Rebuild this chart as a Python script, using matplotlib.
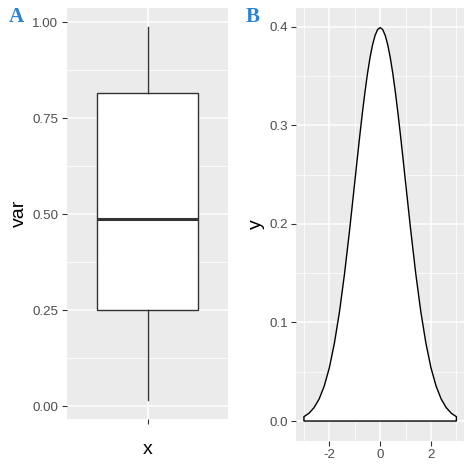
import matplotlib
matplotlib.use("Agg")
import matplotlib.pyplot as plt
from matplotlib.ticker import MultipleLocator

plt.rcParams['font.family'] = ['Liberation Sans', 'DejaVu Sans']
plt.rcParams['axes.unicode_minus'] = False

# panel A: boxplot summary
box_whislo = 0.016
box_q1 = 0.251
box_med = 0.487
box_q3 = 0.817
box_whishi = 0.989

# panel B: density curve
dens_x = [-3.0, -2.8, -2.6, -2.4, -2.2, -2.0, -1.8, -1.6, -1.4, -1.2,
          -1.0, -0.9, -0.8, -0.7, -0.6, -0.5, -0.4, -0.3, -0.2, -0.1,
          0.0, 0.1, 0.2, 0.3, 0.4, 0.5, 0.6, 0.7, 0.8, 0.9, 1.0,
          1.2, 1.4, 1.6, 1.8, 2.0, 2.2, 2.4, 2.6, 2.8, 3.0]
dens_y = [0.0044, 0.0079, 0.0136, 0.0224, 0.0355, 0.0540, 0.0790, 0.1109,
          0.1497, 0.1942,
          0.2420, 0.2661, 0.2897, 0.3123, 0.3332, 0.3521, 0.3683, 0.3814,
          0.3910, 0.3970,
          0.3989, 0.3970, 0.3910, 0.3814, 0.3683, 0.3521, 0.3332, 0.3123,
          0.2897, 0.2661, 0.2420,
          0.1942, 0.1497, 0.1109, 0.0790, 0.0540, 0.0355, 0.0224, 0.0136,
          0.0079, 0.0044]

yticks_a = [0.0, 0.25, 0.5, 0.75, 1.0]
yticks_b = [0.0, 0.1, 0.2, 0.3, 0.4]
xticks_b = [-2, 0, 2]

W = 474
fig = plt.figure(figsize=(4.74, 4.74), dpi=100)
axA = fig.add_axes([67 / W, 55 / W, 161 / W, 411 / W])
axB = fig.add_axes([296.3 / W, 33.3 / W, 167.7 / W, 432.7 / W])


def gg_style(ax):
    ax.set_facecolor('#EBEBEB')
    for s in ax.spines.values():
        s.set_visible(False)
    ax.grid(True, which='major', color='white', lw=1.1)
    ax.grid(True, which='minor', color='white', lw=0.55)
    ax.set_axisbelow(True)
    ax.tick_params(which='major', length=3.6, width=0.8, color='#333333',
                   labelsize=9.6, labelcolor='#4D4D4D', pad=2.6)
    ax.tick_params(which='minor', length=0)


# ---- panel A
gg_style(axA)
stats = [dict(whislo=box_whislo, q1=box_q1, med=box_med, q3=box_q3,
              whishi=box_whishi, fliers=[])]
axA.bxp(stats, positions=[1], widths=0.75, patch_artist=True, showcaps=False,
        boxprops=dict(facecolor='white', edgecolor='#333333', lw=1.0),
        whiskerprops=dict(color='#333333', lw=1.0),
        medianprops=dict(color='#333333', lw=2.2))
axA.set_xlim(0.4, 1.6)
span = box_whishi - box_whislo
axA.set_ylim(box_whislo - 0.05 * span, box_whishi + 0.05 * span)
axA.set_yticks(yticks_a)
axA.set_yticklabels(['0.00', '0.25', '0.50', '0.75', '1.00'])
axA.yaxis.set_minor_locator(MultipleLocator(0.125))
axA.set_xticks([1])
axA.set_xticklabels([''])
axA.set_xlabel('x', fontsize=14, labelpad=10)
axA.set_ylabel('var', fontsize=14, labelpad=3)

# ---- panel B
gg_style(axB)
axB.fill(dens_x + [dens_x[-1], dens_x[0]], dens_y + [0, 0],
         facecolor='white', edgecolor='black', lw=1.0, zorder=3)
xspan = dens_x[-1] - dens_x[0]
axB.set_xlim(dens_x[0] - 0.05 * xspan, dens_x[-1] + 0.05 * xspan)
yspan = max(dens_y)
axB.set_ylim(-0.05 * yspan, yspan * 1.05)
axB.set_xticks(xticks_b)
axB.set_yticks(yticks_b)
axB.set_yticklabels(['0.0', '0.1', '0.2', '0.3', '0.4'])
axB.xaxis.set_minor_locator(MultipleLocator(1))
axB.yaxis.set_minor_locator(MultipleLocator(0.05))
axB.set_ylabel('y', fontsize=14, labelpad=3)

# panel tags
for lab, px in [('A', 16), ('B', 253)]:
    fig.text(px / W, 1 - 17 / W, lab, ha='center', va='center',
             fontsize=15, fontweight='bold', color='#2B82D4',
             family='Liberation Serif')

fig.savefig('out.png', dpi=100)
